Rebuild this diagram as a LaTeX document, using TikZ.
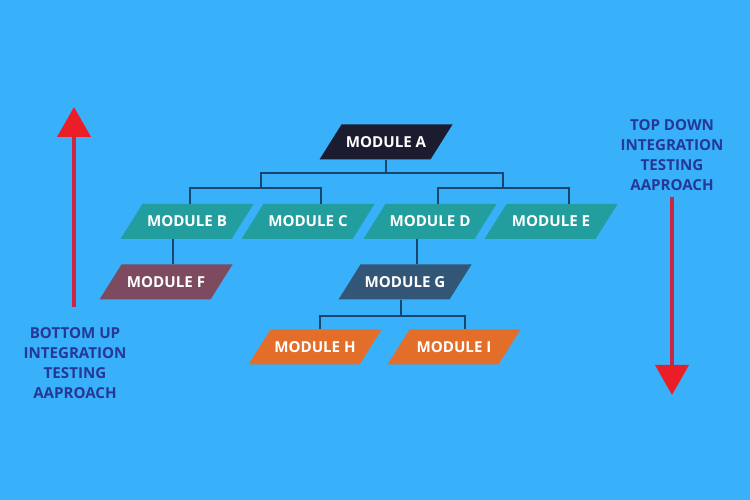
\documentclass[tikz,border=0pt]{standalone}
\usepackage{fontspec}
\setmainfont{Open Sans}
\usepackage{tikz}
\usetikzlibrary{arrows.meta, positioning, calc}
\definecolor{skyback}{RGB}{56, 176, 250}
\definecolor{navymod}{RGB}{28, 28, 48}
\definecolor{tealmod}{RGB}{34, 158, 158}
\definecolor{mauvemod}{RGB}{125, 74, 96}
\definecolor{slatemod}{RGB}{52, 86, 118}
\definecolor{orangemod}{RGB}{226, 110, 42}
\definecolor{linkblue}{RGB}{22, 70, 110}
\definecolor{sidetext}{RGB}{38, 56, 150}
\definecolor{shaftred}{RGB}{200, 40, 70}
\definecolor{headred}{RGB}{235, 30, 40}

\begin{document}
\begin{tikzpicture}[
  modbox/.style={minimum width=2.66cm, minimum height=0.70cm, inner sep=0pt,
    text=white, font=\fontsize{8.6}{10}\selectfont\bfseries,
    path picture={\fill[#1] (path picture bounding box.south west)
      -- ($(path picture bounding box.south east)+(-0.44,0)$)
      -- (path picture bounding box.north east)
      -- ($(path picture bounding box.north west)+(0.44,0)$) -- cycle;}},
  link/.style={draw=linkblue, line width=1.1pt},
  sidenote/.style={align=center, text=sidetext, font=\fontsize{8.6}{11.3}\selectfont\bfseries},
  flow/.style={draw=shaftred, line width=2.3pt,
    -{Triangle[width=0.66cm, length=0.60cm, color=headred]}}
]
  \fill[skyback] (0,0) rectangle (15,10);
  \useasboundingbox (0,0) rectangle (15,10);

  \node[modbox=navymod] (A) at (7.72, 7.16) {MODULE A};
  \node[modbox=tealmod] (B) at (3.74, 5.57) {MODULE B};
  \node[modbox=tealmod] (C) at (6.16, 5.57) {MODULE C};
  \node[modbox=tealmod] (D) at (8.60, 5.57) {MODULE D};
  \node[modbox=tealmod] (E) at (11.02, 5.57) {MODULE E};
  \node[modbox=mauvemod] (F) at (3.32, 4.36) {MODULE F};
  \node[modbox=slatemod] (G) at (8.10, 4.36) {MODULE G};
  \node[modbox=orangemod] (H) at (6.30, 3.06) {MODULE H};
  \node[modbox=orangemod] (I) at (9.08, 3.06) {MODULE I};

  \coordinate (jBC) at (5.22, 6.24);
  \coordinate (jDE) at (10.06, 6.24);
  \coordinate (jHI) at (8.02, 3.68);

  \draw[link] (A.south) -- ++(0,-0.27);
  \draw[link] (jBC) -- ++(0,0.30) -| (jDE);
  \draw[link] ([xshift=0.06cm]B.north) |- (jBC) -| ([xshift=0.26cm]C.north);
  \draw[link] ([xshift=0.16cm]D.north) |- (jDE) -| ([xshift=0.36cm]E.north);
  \draw[link] ([xshift=-0.28cm]B.south) -- ([xshift=-0.28cm]B.south |- F.north);
  \draw[link] ([xshift=-0.26cm]D.south) -- ([xshift=-0.26cm]D.south |- G.north);
  \draw[link] ([xshift=-0.08cm]G.south) -- (jHI);
  \draw[link] ([xshift=0.10cm]H.north) |- (jHI) -| ([xshift=0.22cm]I.north);

  \node[sidenote] (bottomup) at (1.50, 2.74) {BOTTOM UP\\INTEGRATION\\TESTING\\AAPROACH};
  \node[sidenote] (topdown) at (13.44, 6.90) {TOP DOWN\\INTEGRATION\\TESTING\\AAPROACH};

  \coordinate (upstart) at (1.48, 3.86);
  \coordinate (uptip) at (1.48, 7.86);
  \coordinate (downstart) at (13.44, 6.06);
  \coordinate (downtip) at (13.44, 2.10);
  \draw[flow] (upstart) -- (uptip);
  \draw[flow] (downstart) -- (downtip);
\end{tikzpicture}
\end{document}
